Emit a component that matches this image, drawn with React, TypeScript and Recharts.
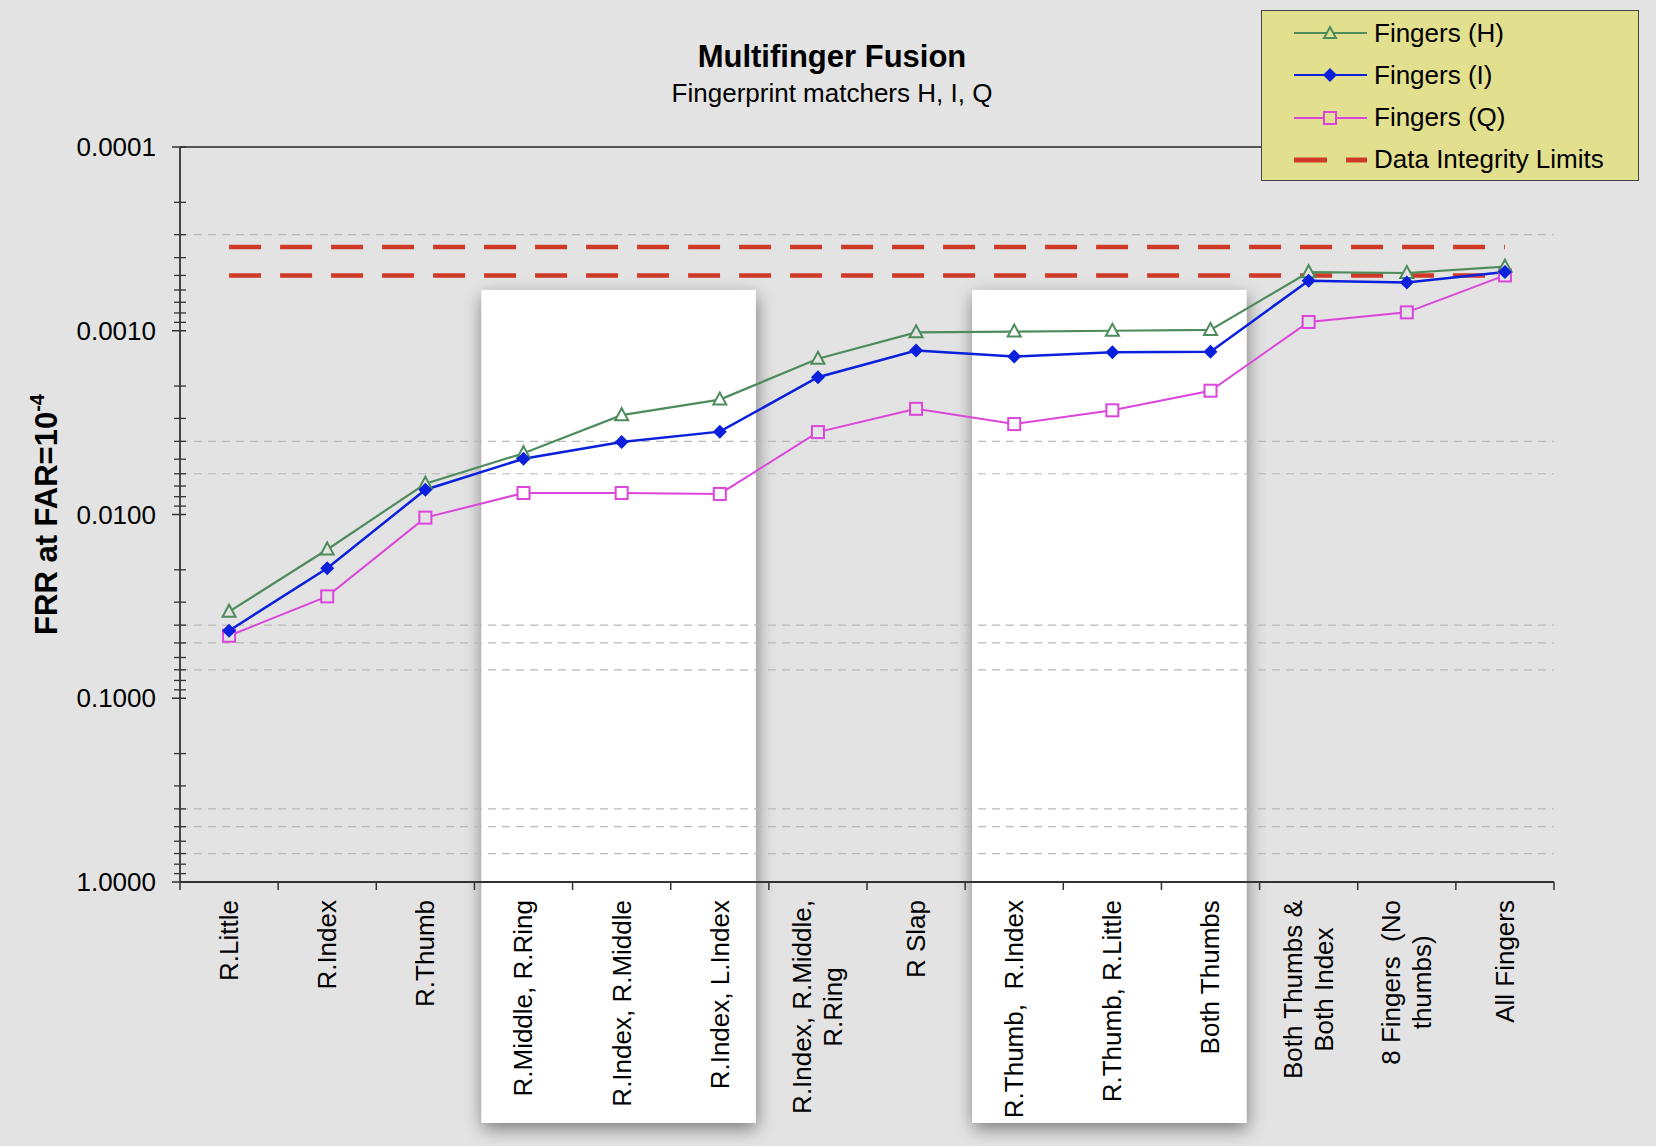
import React from 'react';
import { LineChart, Line, XAxis, YAxis, ReferenceLine, ReferenceArea, Legend } from 'recharts';

const categories = [
  'R.Little', 'R.Index', 'R.Thumb', 'R.Middle, R.Ring', 'R.Index, R.Middle', 'R.Index, L.Index',
  'R.Index, R.Middle, R.Ring', 'R Slap', 'R.Thumb,  R.Index', 'R.Thumb, R.Little', 'Both Thumbs',
  'Both Thumbs & Both Index', '8 Fingers  (No thumbs)', 'All Fingers',
];

// how each category label is broken into lines under the axis
const tickLabelLines = [
  ['R.Little'], ['R.Index'], ['R.Thumb'], ['R.Middle, R.Ring'], ['R.Index, R.Middle'], ['R.Index, L.Index'],
  ['R.Index, R.Middle,', 'R.Ring'], ['R Slap'], ['R.Thumb,  R.Index'], ['R.Thumb, R.Little'], ['Both Thumbs'],
  ['Both Thumbs &', 'Both Index'], ['8 Fingers  (No', 'thumbs)'], ['All Fingers'],
];

const fingersH = [0.0338, 0.0155, 0.0068, 0.00464, 0.00288, 0.00237, 0.00142, 0.00102, 0.00101, 0.001, 0.00099, 0.00048, 0.000485, 0.000448];
const fingersI = [0.0429, 0.0196, 0.00733, 0.00497, 0.00403, 0.00354, 0.00179, 0.00128, 0.00138, 0.00131, 0.0013, 0.000534, 0.000546, 0.000479];
const fingersQ = [0.0457, 0.0279, 0.0104, 0.00764, 0.00764, 0.00773, 0.00356, 0.00266, 0.00322, 0.00271, 0.00212, 0.000896, 0.000794, 0.0005];
const limitUpper = [0.00035, 0.00035, 0.00035, 0.00035, 0.00035, 0.00035, 0.00035, 0.00035, 0.00035, 0.00035, 0.00035, 0.00035, 0.00035, 0.00035];
const limitLower = [0.0005, 0.0005, 0.0005, 0.0005, 0.0005, 0.0005, 0.0005, 0.0005, 0.0005, 0.0005, 0.0005, 0.0005, 0.0005, 0.0005];

const yMajorTicks = [0.0001, 0.001, 0.01, 0.1, 1];
const yMinorSteps = [2, 3, 4, 5, 6, 7, 8, 9];
const gridValues = [0.0003, 0.004, 0.006, 0.04, 0.05, 0.07, 0.4, 0.5, 0.7];

// highlighted groups (white panels)
const panels = [
  ['R.Middle, R.Ring', 'R.Index, L.Index'],
  ['R.Thumb,  R.Index', 'Both Thumbs'],
];
const panelTop = 0.0006;

const W = 1656;
const H = 1146;
const PLOT_LEFT = 180;
const PLOT_RIGHT = 1554;
const BAND = (PLOT_RIGHT - PLOT_LEFT) / categories.length;

const BG = '#e3e3e3';
const C_H = '#4f8c5d';
const C_I = '#0a20dc';
const C_Q = '#dc45dc';
const C_LIM = '#cf3a28';
const FONT = '"Liberation Sans", Arial, Helvetica, sans-serif';

const data = categories.map((cat, i) => ({
  cat,
  H: fingersH[i],
  I: fingersI[i],
  Q: fingersQ[i],
  limHi: limitUpper[i],
  limLo: limitLower[i],
}));

const yTicks = yMajorTicks.slice(0, -1).reduce<number[]>(
  (acc, m) => acc.concat([m], yMinorSteps.map((s) => +(m * s).toPrecision(3))),
  []
).concat([1]);

const whiteIdx = new Set<number>();
panels.forEach(([a, b]) => {
  for (let k = categories.indexOf(a); k <= categories.indexOf(b); k++) whiteIdx.add(k);
});

const ctx = typeof document !== 'undefined' ? document.createElement('canvas').getContext('2d') : null;
const textWidth = (t: string, size: number) => {
  if (!ctx) return t.length * size * 0.5;
  ctx.font = `${size}px ${FONT}`;
  return ctx.measureText(t).width;
};

const XTick = (props: any) => {
  const { x, y, payload } = props;
  const idx = categories.indexOf(payload.value);
  const lines = tickLabelLines[idx] || [payload.value];
  const half = BAND / 2;
  const fs = 26;
  const lh = 31;
  const top = y + 18;
  const longest = Math.max(...lines.map((l) => textWidth(l, fs)));
  return (
    <g>
      <line x1={x - half} y1={y} x2={x - half} y2={y + 8} stroke="#333" strokeWidth={1.5} />
      {idx === categories.length - 1 && (
        <line x1={x + half} y1={y} x2={x + half} y2={y + 8} stroke="#333" strokeWidth={1.5} />
      )}
      {lines.map((l, i) => {
        const bx = x + 9 + (i - (lines.length - 1) / 2) * lh;
        const by = top + longest / 2;
        return (
          <text
            key={i}
            x={bx}
            y={by}
            transform={`rotate(-90, ${bx}, ${by})`}
            textAnchor="middle"
            fontSize={fs}
            fontFamily={FONT}
            fill="#000"
            style={{ whiteSpace: 'pre' }}
          >
            {l}
          </text>
        );
      })}
    </g>
  );
};

const YTick = (props: any) => {
  const { x, y, payload } = props;
  const major = yMajorTicks.some((m) => Math.abs(m - payload.value) < m * 1e-6);
  return (
    <g>
      {major ? (
        <>
          <line x1={x - 8} y1={y} x2={x + 6} y2={y} stroke="#333" strokeWidth={1.5} />
          <text x={x - 24} y={y} dy="0.35em" textAnchor="end" fontSize={26} fontFamily={FONT} fill="#000">
            {payload.value.toFixed(4)}
          </text>
        </>
      ) : (
        <line x1={x - 6} y1={y} x2={x + 6} y2={y} stroke="#333" strokeWidth={1.3} />
      )}
    </g>
  );
};

const YLabel = (props: any) => {
  const vb = props.viewBox || { x: 0, y: 147, width: 180, height: 735 };
  const cx = 46;
  const cy = vb.y + vb.height / 2;
  return (
    <text
      x={cx}
      y={cy}
      transform={`rotate(-90, ${cx}, ${cy})`}
      textAnchor="middle"
      dy="0.36em"
      fontSize={31}
      fontWeight="bold"
      fontFamily={FONT}
      fill="#000"
    >
      FRR at FAR=10
      <tspan dy={-13} fontSize={20}>-4</tspan>
    </text>
  );
};

const Panel = (props: any) => {
  const { x, y, width, height } = props;
  return (
    <g>
      <defs>
        <filter id="panelShadow" x="-20%" y="-20%" width="140%" height="140%">
          <feDropShadow dx="1" dy="6" stdDeviation="9" floodColor="#000" floodOpacity="0.45" />
        </filter>
      </defs>
      <rect x={x + 7} y={y} width={width - 20} height={height + 241} fill="#fff" filter="url(#panelShadow)" />
    </g>
  );
};

const TriDot = (props: any) => {
  const { cx, cy, index } = props;
  if (cx == null || cy == null) return null;
  return (
    <path
      d={`M${cx},${cy - 7} L${cx + 6.5},${cy + 5} L${cx - 6.5},${cy + 5} Z`}
      fill={whiteIdx.has(index) ? '#fff' : BG}
      stroke={C_H}
      strokeWidth={2}
    />
  );
};

const DiamondDot = (props: any) => {
  const { cx, cy } = props;
  if (cx == null || cy == null) return null;
  return <path d={`M${cx},${cy - 7} L${cx + 7},${cy} L${cx},${cy + 7} L${cx - 7},${cy} Z`} fill={C_I} />;
};

const SquareDot = (props: any) => {
  const { cx, cy, index } = props;
  if (cx == null || cy == null) return null;
  return (
    <rect
      x={cx - 6}
      y={cy - 6}
      width={12}
      height={12}
      fill={whiteIdx.has(index) ? '#fff' : BG}
      stroke={C_Q}
      strokeWidth={2}
    />
  );
};

const legendRows = [
  { label: 'Fingers (H)', kind: 'tri' },
  { label: 'Fingers (I)', kind: 'dia' },
  { label: 'Fingers (Q)', kind: 'sq' },
  { label: 'Data Integrity Limits', kind: 'lim' },
];

const LegendIcon = ({ kind }: { kind: string }) => {
  const cy = 20;
  if (kind === 'lim') {
    return (
      <svg width={113} height={40}>
        <line x1={32} y1={cy} x2={65} y2={cy} stroke={C_LIM} strokeWidth={5} />
        <line x1={84} y1={cy} x2={105} y2={cy} stroke={C_LIM} strokeWidth={5} />
      </svg>
    );
  }
  const color = kind === 'tri' ? C_H : kind === 'dia' ? C_I : C_Q;
  const cx = 68;
  return (
    <svg width={113} height={40}>
      <line x1={32} y1={cy} x2={105} y2={cy} stroke={color} strokeWidth={2} />
      {kind === 'tri' && (
        <path d={`M${cx},${cy - 6} L${cx + 6},${cy + 5} L${cx - 6},${cy + 5} Z`} fill="#e2df8f" stroke={color} strokeWidth={2} />
      )}
      {kind === 'dia' && <path d={`M${cx},${cy - 7} L${cx + 7},${cy} L${cx},${cy + 7} L${cx - 7},${cy} Z`} fill={color} />}
      {kind === 'sq' && <rect x={cx - 6} y={cy - 6} width={12} height={12} fill="#e2df8f" stroke={color} strokeWidth={2} />}
    </svg>
  );
};

const LegendBox = () => (
  <div
    style={{
      width: 378,
      height: 171,
      boxSizing: 'border-box',
      background: '#e2df8f',
      border: '1.5px solid #444',
      position: 'relative',
      fontFamily: FONT,
      fontSize: 26,
      color: '#000',
    }}
  >
    {legendRows.map((r, i) => (
      <div
        key={r.label}
        style={{ position: 'absolute', left: 0, top: 2 + i * 42.3, height: 40, display: 'flex', alignItems: 'center', whiteSpace: 'nowrap' }}
      >
        <LegendIcon kind={r.kind} />
        <span style={{ marginLeft: -1 }}>{r.label}</span>
      </div>
    ))}
  </div>
);

export default function App() {
  return (
    <div style={{ position: 'absolute', left: 0, top: 0, width: W, height: H, background: BG, overflow: 'hidden' }}>
      <div
        style={{
          position: 'absolute', left: 0, width: 1664, top: 38, textAlign: 'center',
          fontFamily: FONT, fontWeight: 'bold', fontSize: 31, lineHeight: '38px', color: '#000',
        }}
      >
        Multifinger Fusion
      </div>
      <div
        style={{
          position: 'absolute', left: 0, width: 1664, top: 78, textAlign: 'center',
          fontFamily: FONT, fontSize: 26, lineHeight: '30px', color: '#000',
        }}
      >
        Fingerprint matchers H, I, Q
      </div>
      <LineChart
        width={W}
        height={H}
        data={data}
        margin={{ top: 147, right: W - PLOT_RIGHT, left: 0, bottom: 0 }}
        style={{ position: 'absolute', left: 0, top: 0 }}
      >
        {panels.map(([a, b]) => (
          <ReferenceArea
            key={a}
            x1={a}
            x2={b}
            y1={panelTop}
            y2={1}
            shape={<Panel />}
            ifOverflow="visible"
            {...({ zIndex: -300 } as any)}
          />
        ))}
        {gridValues.map((v) => (
          <ReferenceLine key={v} y={v} stroke="#b9b9b9" strokeWidth={1.2} strokeDasharray="8 6" {...({ zIndex: 50 } as any)} />
        ))}
        <ReferenceLine y={0.0001} stroke="#555" strokeWidth={2} />
        <XAxis
          dataKey="cat"
          scale="band"
          interval={0}
          height={264}
          tickSize={0}
          tickMargin={0}
          tickLine={false}
          axisLine={{ stroke: '#333', strokeWidth: 1.8 }}
          tick={<XTick />}
        />
        <YAxis
          type="number"
          scale="log"
          domain={[0.0001, 1]}
          reversed
          allowDataOverflow
          ticks={yTicks}
          interval={0}
          width={PLOT_LEFT}
          tickSize={0}
          tickMargin={0}
          tickLine={false}
          axisLine={{ stroke: '#333', strokeWidth: 1.8 }}
          tick={<YTick />}
          label={<YLabel />}
        />
        <YAxis
          yAxisId="right"
          orientation="right"
          type="number"
          domain={[0, 1]}
          width={0}
          tick={false}
          tickLine={false}
          axisLine={{ stroke: '#777', strokeWidth: 2.5 }}
        />
        <Line dataKey="limHi" name="Data Integrity Limits" stroke={C_LIM} strokeWidth={4.5} strokeDasharray="32 19" dot={false} isAnimationActive={false} legendType="none" />
        <Line dataKey="limLo" name="Data Integrity Limits (lower)" stroke={C_LIM} strokeWidth={4.5} strokeDasharray="32 19" dot={false} isAnimationActive={false} legendType="none" />
        <Line dataKey="Q" name="Fingers (Q)" stroke={C_Q} strokeWidth={2} dot={<SquareDot />} isAnimationActive={false} />
        <Line dataKey="H" name="Fingers (H)" stroke={C_H} strokeWidth={2.2} dot={<TriDot />} isAnimationActive={false} />
        <Line dataKey="I" name="Fingers (I)" stroke={C_I} strokeWidth={2.5} dot={<DiamondDot />} isAnimationActive={false} />
        <Legend
          content={<LegendBox />}
          layout="vertical"
          align="center"
          verticalAlign="middle"
          wrapperStyle={{ left: 1261, top: 10, width: 378, height: 171 }}
        />
      </LineChart>
    </div>
  );
}
